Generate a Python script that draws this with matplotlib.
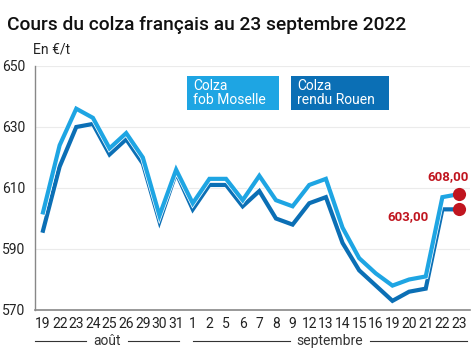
import matplotlib
matplotlib.use("Agg")
import matplotlib.pyplot as plt
from matplotlib.patches import Rectangle
from matplotlib.lines import Line2D
import matplotlib.transforms as mtransforms
import matplotlib.patheffects as pe

days = ["19", "22", "23", "24", "25", "26", "29", "30", "31", "1", "2", "5", "6",
        "7", "8", "9", "12", "13", "14", "15", "16", "19", "20", "21", "22", "23"]
moselle = [602, 624, 636, 633, 623, 628, 620, 601, 616, 605, 613, 613, 606,
           614, 606, 604, 611, 613, 597, 587, 582, 578, 580, 581, 607, 608]
rouen = [596, 617, 630, 631, 621, 626, 618, 599, 615, 603, 611, 611, 604,
         609, 600, 598, 605, 607, 592, 583, 578, 573, 576, 577, 603, 603]
months = [("août", 0, 8), ("septembre", 9, 25)]
series_names = ["Colza\nfob Moselle", "Colza\nrendu Rouen"]
yticks = [570, 590, 610, 630, 650]

c_light = "#1ea5e3"
c_dark = "#0b6fb5"
c_red = "#c0151f"

plt.rcParams['font.family'] = ['Roboto', 'DejaVu Sans']

W, H = 474, 353
fig = plt.figure(figsize=(W / 100, H / 100), dpi=100)
ax = fig.add_axes([35 / W, (H - 310) / H, (470 - 35) / W, (310 - 66) / H])

x = list(range(len(days)))
ax.plot(x, rouen, color=c_dark, lw=3.0, solid_joinstyle='miter', zorder=3,
        path_effects=[pe.Stroke(linewidth=4.0, foreground='white'), pe.Normal()])
ax.plot(x, moselle, color=c_light, lw=3.0, solid_joinstyle='miter', zorder=4,
        path_effects=[pe.Stroke(linewidth=4.0, foreground='white'), pe.Normal()])

ax.scatter([x[-1], x[-1]], [moselle[-1], rouen[-1]], s=90, color=c_red, zorder=6, linewidths=0)
ax.annotate(f"{moselle[-1]:.2f}".replace(".", ","), (x[-1], moselle[-1]),
            xytext=(-11, 17), textcoords='offset pixels', ha='center', va='center',
            color=c_red, fontsize=9.5, fontweight='bold', zorder=7)
ax.annotate(f"{rouen[-1]:.2f}".replace(".", ","), (x[-1], rouen[-1]),
            xytext=(-30, -7), textcoords='offset pixels', ha='right', va='center',
            color=c_red, fontsize=9.5, fontweight='bold', zorder=7)

ax.set_xlim(-0.48, 25.66)
ax.set_ylim(570, 650)
ax.set_yticks(yticks)
ax.set_xticks(x)
ax.set_xticklabels(days)
ax.tick_params(axis='both', length=0, labelsize=10, colors='#222222')
ax.tick_params(axis='y', pad=7)
ax.tick_params(axis='x', pad=5)
ax.grid(axis='y', color='#ebebeb', lw=0.8)
ax.set_axisbelow(True)
for s in ['top', 'right']:
    ax.spines[s].set_visible(False)
ax.spines['left'].set_color('#888888')
ax.spines['bottom'].set_color('#888888')
ax.spines['left'].set_linewidth(1.0)
ax.spines['bottom'].set_linewidth(1.2)

# title
fig.text(7 / W, 1 - 25 / H, "Cours du colza français au 23 septembre 2022",
         fontsize=13.8, fontweight='medium', color='#111111', va='center', ha='left')
fig.text(33 / W, 1 - 49 / H, "En €/t", fontsize=10, color='#222222', va='center', ha='left')

# legend boxes
boxes = [(187, 279, c_light), (291, 389, c_dark)]
for (x0, x1, col), name in zip(boxes, series_names):
    fig.add_artist(Rectangle((x0 / W, 1 - 110 / H), (x1 - x0) / W, 34 / H,
                             transform=fig.transFigure, facecolor=col, edgecolor='none'))
    fig.text((x0 + 6) / W, 1 - 93 / H, name, fontsize=10, color='white',
             va='center', ha='left', linespacing=0.95)

# month brackets (lines with a gap around the label)
trans = mtransforms.blended_transform_factory(ax.transData, fig.transFigure)
yb = (H - 341) / H
fig.canvas.draw()
renderer = fig.canvas.get_renderer()
gap = 7  # px
for name, i0, i1 in months:
    a = i0 - 0.5 if i0 == 0 else i0 - 0.0
    b = i1 + 0.2 if i1 < len(days) - 1 else i1 + 0.5
    t = fig.text((a + b) / 2, yb, name, transform=trans, ha='center', va='center',
                 fontsize=10, color='#333333')
    bb = t.get_window_extent(renderer)
    inv = ax.transData.inverted()
    tl = inv.transform((bb.x0 - gap, 0))[0]
    tr = inv.transform((bb.x1 + gap, 0))[0]
    fig.add_artist(Line2D([a, tl], [yb, yb], transform=trans, color='#333333', lw=0.8))
    fig.add_artist(Line2D([tr, b], [yb, yb], transform=trans, color='#333333', lw=0.8))

fig.savefig("out.png", dpi=100)
